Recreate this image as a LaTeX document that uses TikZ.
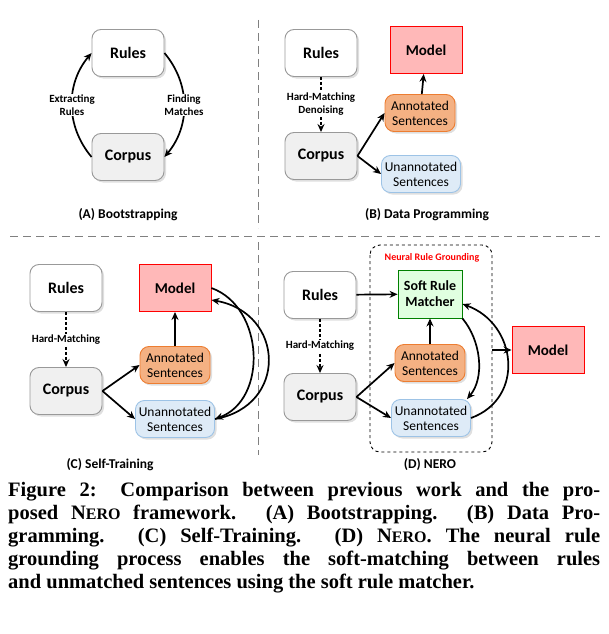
\documentclass[tikz,border=0pt]{standalone}
\usepackage{fontspec}
\setmainfont{Carlito}
\newfontfamily\capfont{Liberation Serif}
\usetikzlibrary{shadows,arrows.meta}
\definecolor{annfill}{RGB}{244,177,131}
\definecolor{annline}{RGB}{237,125,49}
\definecolor{unfill}{RGB}{222,235,247}
\definecolor{unline}{RGB}{157,195,230}
\begin{document}
\begin{tikzpicture}[x=1pt,y=-1pt,
  box/.style={draw=gray!80,line width=0.9pt,rounded corners=9pt,minimum width=72pt,minimum height=47pt,
    font=\fontsize{16}{18}\selectfont\bfseries,drop shadow={opacity=0.25,shadow xshift=2pt,shadow yshift=-2pt}},
  rules/.style={box,fill=white},
  corpus/.style={box,fill=gray!12},
  sent/.style={draw,line width=0.9pt,rounded corners=9pt,minimum width=70pt,minimum height=37pt,align=center,
    font=\fontsize{13.5}{15}\selectfont,drop shadow={opacity=0.25,shadow xshift=2pt,shadow yshift=-2pt}},
  ann/.style={sent,fill=annfill,draw=annline},
  unann/.style={sent,fill=unfill,draw=unline},
  model/.style={draw=red,line width=0.9pt,fill=red!28,minimum width=72pt,minimum height=47pt,font=\fontsize{15}{17}\selectfont\bfseries},
  lab/.style={font=\fontsize{11}{13}\selectfont\bfseries,align=center,fill=white,inner sep=1pt},
  sub/.style={font=\fontsize{13.5}{15}\selectfont\bfseries},
  arr/.style={-{Stealth[length=8pt,width=7pt]},line width=1.7pt},
  darr/.style={arr,dash pattern=on 3pt off 2pt},
  sep/.style={gray,dash pattern=on 8pt off 5pt,line width=1pt}]
\useasboundingbox (0,0) rectangle (609,634);
% separators
\draw[sep] (258,20) -- (258,228);
\draw[sep] (10,236) -- (600,236);
\draw[sep] (258,242) -- (258,455);
% (A)
\node[rules] (ra) at (128,53) {Rules};
\node[corpus] (ca) at (128,157) {Corpus};
\draw[arr] (ra.east) to[bend left=40] node[lab] {Finding\\Matches} (ca.east);
\draw[arr] (ca.west) to[bend left=40] node[lab] {Extracting\\Rules} (ra.west);
\node[sub] (ta) at (128,215) {(A) Bootstrapping};
% (B)
\node[rules] (rb) at (321,53) {Rules};
\node[corpus] (cb) at (321,156) {Corpus};
\node[model] (mb) at (426,50) {Model};
\node[ann] (ab) at (420,113) {Annotated\\Sentences};
\node[unann] (ub) at (421,174) {Unannotated\\Sentences};
\draw[darr] (rb) -- node[lab] {Hard-Matching\\Denoising} (cb);
\draw[arr] (cb.east) -- (ab.west);
\draw[arr] (cb.east) -- (ub.west);
\draw[arr] (ab) -- (mb);
\node[sub] (tb) at (427,215) {(B) Data Programming};
% (C)
\node[rules] (rc) at (66,288) {Rules};
\node[corpus] (cc) at (66,391) {Corpus};
\node[model] (mc) at (175,288) {Model};
\node[ann] (ac) at (175,365) {Annotated\\Sentences};
\node[unann] (uc) at (175,419) {Unannotated\\Sentences};
\draw[darr] (rc) -- node[lab] {Hard-Matching} (cc);
\draw[arr] (cc.east) -- (ac.west);
\draw[arr] (cc.east) -- (uc.west);
\draw[arr] (ac) -- (mc);
\draw[arr] (mc.east) to[out=-20,in=20,looseness=1.1] (uc.east);
\draw[arr] (uc.east) to[out=10,in=-10,looseness=1.6] ([yshift=-12pt]mc.east);
\node[sub] (tc) at (110,465) {(C) Self-Training};
% (D)
\draw[dashed,line width=0.9pt,rounded corners=10pt] (370,245) rectangle (492,452);
\node[font=\fontsize{10}{12}\selectfont\bfseries,text=red] (ng) at (432,258) {Neural Rule Grounding};
\node[rules] (rd) at (320,295) {Rules};
\node[corpus] (cd) at (320,397) {Corpus};
\node[draw=green!50!black,line width=0.9pt,fill=green!12,minimum width=64pt,minimum height=48pt,align=center,
  font=\fontsize{14}{16}\selectfont\bfseries] (sm) at (430,294) {Soft Rule\\Matcher};
\node[ann] (ad) at (430,363) {Annotated\\Sentences};
\node[unann] (ud) at (431,418) {Unannotated\\Sentences};
\node[model] (md) at (548,350) {Model};
\coordinate (bx) at (492,350);
\draw[darr] (rd) -- node[lab] {Hard-Matching} (cd);
\draw[arr] (rd) -- (sm);
\draw[arr] (cd.east) -- (ad.west);
\draw[arr] (cd.east) -- (ud.west);
\draw[arr] (ad) -- (sm);
\draw[arr] (sm.south east) to[out=-50,in=50,looseness=0.9] ([xshift=-4pt]ud.north east);
\draw[arr] (ud.east) to[out=20,in=-20,looseness=1.3] ([yshift=-10pt]sm.east);
\draw[arr] (bx) -- (md);
\node[sub] (td) at (430,465) {(D) NERO};
% caption
\begin{scope}[every node/.style={anchor=west,font=\capfont\fontsize{20.5}{23}\selectfont\bfseries,inner sep=0}]
\node (l1) at (8,492) {\makebox[592pt][s]{Figure 2: Comparison between previous work and the pro-}};
\node (l2) at (8,515) {\makebox[592pt][s]{posed N{\fontsize{16}{18}\selectfont ERO} framework. (A) Bootstrapping. (B) Data Pro-}};
\node (l3) at (8,538) {\makebox[592pt][s]{gramming. (C) Self-Training. (D) N{\fontsize{16}{18}\selectfont ERO}. The neural rule}};
\node (l4) at (8,561) {\makebox[592pt][s]{grounding process enables the soft-matching between rules}};
\node (l5) at (8,584) {and unmatched sentences using the soft rule matcher.};
\end{scope}
\end{tikzpicture}
\end{document}
